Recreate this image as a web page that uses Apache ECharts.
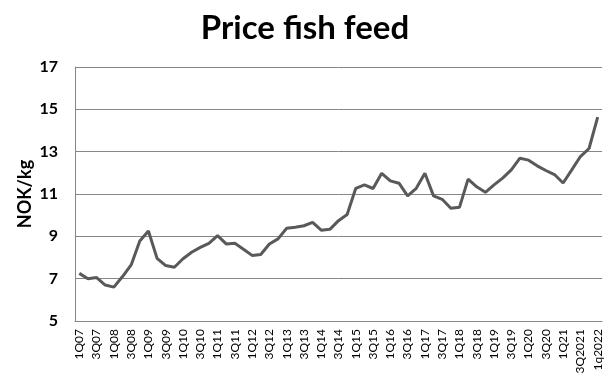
<!DOCTYPE html>
<html>
<head>
<meta charset="utf-8">
<script src="https://cdn.jsdelivr.net/npm/echarts@6/dist/echarts.min.js"></script>
<style>html,body{margin:0;padding:0;background:#fff}#c{width:610px;height:382px}</style>
</head>
<body>
<div id="c"></div>
<script>
const titleText = "Price fish feed";
const yAxisName = "NOK/kg";
const quarters = [
  "1Q07","2Q07","3Q07","4Q07","1Q08","2Q08","3Q08","4Q08",
  "1Q09","2Q09","3Q09","4Q09","1Q10","2Q10","3Q10","4Q10",
  "1Q11","2Q11","3Q11","4Q11","1Q12","2Q12","3Q12","4Q12",
  "1Q13","2Q13","3Q13","4Q13","1Q14","2Q14","3Q14","4Q14",
  "1Q15","2Q15","3Q15","4Q15","1Q16","2Q16","3Q16","4Q16",
  "1Q17","2Q17","3Q17","4Q17","1Q18","2Q18","3Q18","4Q18",
  "1Q19","2Q19","3Q19","4Q19","1Q20","2Q20","3Q20","4Q20",
  "1Q21","2Q21","3Q2021","4Q2021","1q2022"
];
const prices = [
  7.25, 7.0, 7.05, 6.7, 6.6, 7.1, 7.65, 8.78,
  9.25, 7.96, 7.62, 7.54, 7.94, 8.25, 8.48, 8.67,
  9.03, 8.64, 8.67, 8.39, 8.1, 8.14, 8.64, 8.88,
  9.38, 9.43, 9.5, 9.66, 9.29, 9.33, 9.74, 10.03,
  11.27, 11.43, 11.26, 11.98, 11.62, 11.51, 10.91, 11.27,
  11.98, 10.91, 10.75, 10.33, 10.37, 11.7, 11.34, 11.08,
  11.43, 11.75, 12.14, 12.69, 12.6, 12.33, 12.11, 11.92,
  11.52, 12.14, 12.77, 13.15, 14.63
];
const yMin = 5, yMax = 17, yStep = 2;

const chart = echarts.init(document.getElementById('c'), null, {renderer: 'canvas'});
chart.setOption({
  animation: false,
  backgroundColor: '#ffffff',
  title: {
    text: titleText,
    left: 'center',
    top: 7,
    textStyle: {fontFamily: 'Lato', fontWeight: 'bold', fontSize: 33, color: '#000'}
  },
  grid: {left: 75, right: 8, top: 67, bottom: 61, containLabel: false},
  xAxis: {
    type: 'category',
    data: quarters,
    boundaryGap: true,
    axisLine: {show: true, lineStyle: {color: '#868686', width: 1}},
    axisTick: {show: false},
    axisLabel: {
      interval: 1,
      rotate: 90,
      margin: 8,
      fontFamily: 'Lato',
      fontSize: 12,
      color: '#000'
    },
    splitLine: {show: false}
  },
  yAxis: {
    type: 'value',
    min: yMin, max: yMax, interval: yStep,
    name: yAxisName,
    nameLocation: 'middle',
    nameGap: 41,
    nameMoveOverlap: false,
    nameRotate: 90,
    nameTextStyle: {fontFamily: 'Lato', fontWeight: 'bold', fontSize: 18, color: '#000'},
    axisLine: {show: true, lineStyle: {color: '#868686', width: 1}},
    axisTick: {show: false},
    axisLabel: {fontFamily: 'Lato', fontWeight: 'bold', fontSize: 16, color: '#000', margin: 17},
    splitLine: {show: true, lineStyle: {color: '#868686', width: 1}}
  },
  series: [{
    type: 'line',
    data: prices,
    symbol: 'none',
    smooth: false,
    lineStyle: {color: '#595959', width: 3},
    itemStyle: {color: '#595959'}
  }]
});
</script>
</body>
</html>
